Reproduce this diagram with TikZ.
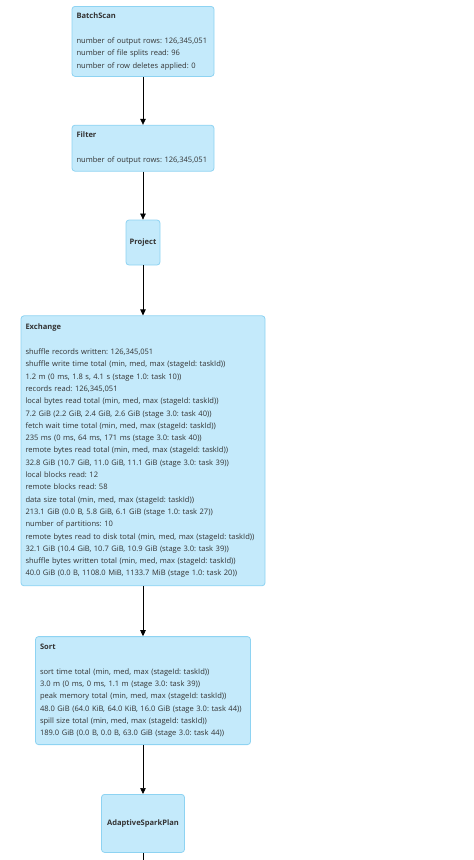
\documentclass[tikz,border=0pt]{standalone}
\usepackage{fontspec}
\setmainfont{Open Sans}
\usetikzlibrary{arrows.meta,positioning}
\definecolor{opfill}{HTML}{C4EAFB}
\definecolor{opdraw}{HTML}{8ED3F2}
\definecolor{optext}{HTML}{333333}
\frenchspacing

\begin{document}
\begin{tikzpicture}[
  x=1pt, y=1pt,
  node distance = 49pt,
  op box/.style = {
    draw=opdraw, fill=opfill, rounded corners=3pt, line width=0.8pt,
    text=optext, font=\fontsize{7.55}{12.3}\selectfont,
    inner xsep=4.5pt, inner ysep=4pt, align=left
  },
  tiny box/.style = {op box, align=center, font=\fontsize{7.55}{12.3}\selectfont\bfseries},
  arr/.style  = {-{Triangle[length=6pt,width=5.5pt]}, line width=0.7pt},
  tail/.style = {line width=0.7pt},
]
\useasboundingbox (0,0) rectangle (474,-860);

\node[op box, anchor=north, text width=133pt, minimum height=70pt] (scan) at (143,-6)
  {\textbf{BatchScan}\\[12.7pt]
   number of output rows: 126,345,051\\
   number of file splits read: 96\\
   number of row deletes applied: 0};

\node[op box, text width=133pt, minimum height=46pt] (filter) [below=48pt of scan]
  {\textbf{Filter}\\[12.7pt]
   number of output rows: 126,345,051};

\node[tiny box, minimum width=34pt, minimum height=45pt, inner xsep=0pt] (project) [below=48pt of filter] {Project};

% shuffle
\node[op box, text width=235pt, minimum height=270pt] (exchange) [below=50pt of project]
  {\textbf{Exchange}\\[12.7pt]
   shuffle records written: 126,345,051\\
   shuffle write time total (min, med, max (stageId: taskId))\\
   1.2 m (0 ms, 1.8 s, 4.1 s (stage 1.0: task 10))\\
   records read: 126,345,051\\
   local bytes read total (min, med, max (stageId: taskId))\\
   7.2 GiB (2.2 GiB, 2.4 GiB, 2.6 GiB (stage 3.0: task 40))\\
   fetch wait time total (min, med, max (stageId: taskId))\\
   235 ms (0 ms, 64 ms, 171 ms (stage 3.0: task 40))\\
   remote bytes read total (min, med, max (stageId: taskId))\\
   32.8 GiB (10.7 GiB, 11.0 GiB, 11.1 GiB (stage 3.0: task 39))\\
   local blocks read: 12\\
   remote blocks read: 58\\
   data size total (min, med, max (stageId: taskId))\\
   213.1 GiB (0.0 B, 5.8 GiB, 6.1 GiB (stage 1.0: task 27))\\
   number of partitions: 10\\
   remote bytes read to disk total (min, med, max (stageId: taskId))\\
   32.1 GiB (10.4 GiB, 10.7 GiB, 10.9 GiB (stage 3.0: task 39))\\
   shuffle bytes written total (min, med, max (stageId: taskId))\\
   40.0 GiB (0.0 B, 1108.0 MiB, 1133.7 MiB (stage 1.0: task 20))};

\node[op box, text width=206pt, minimum height=108pt] (sort) [below=50pt of exchange]
  {\textbf{Sort}\\[12.7pt]
   sort time total (min, med, max (stageId: taskId))\\
   3.0 m (0 ms, 0 ms, 1.1 m (stage 3.0: task 39))\\
   peak memory total (min, med, max (stageId: taskId))\\
   48.0 GiB (64.0 KiB, 64.0 KiB, 16.0 GiB (stage 3.0: task 44))\\
   spill size total (min, med, max (stageId: taskId))\\
   189.0 GiB (0.0 B, 0.0 B, 63.0 GiB (stage 3.0: task 44))};

\node[tiny box, minimum width=83pt, minimum height=58pt] (plan) [below=49pt of sort] {AdaptiveSparkPlan};
\coordinate[below=20pt of plan] (out);

% arrows
\draw[arr] (scan) -- (filter);
\draw[arr] (filter) -- (project);
\draw[arr] (project) -- (exchange);
\draw[arr] (exchange) -- (sort);
\draw[arr] (sort) -- (plan);
\draw[tail] (plan) -- (out);

\end{tikzpicture}
\end{document}
